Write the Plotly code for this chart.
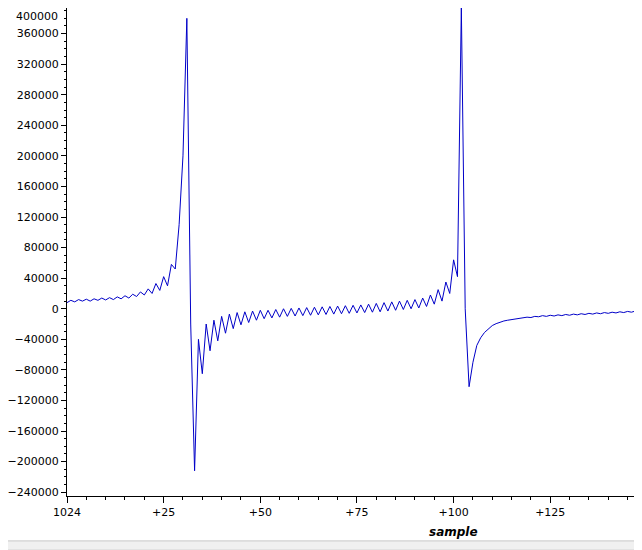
import plotly.graph_objects as go

# samples after index 1024
values = [
    8000, 11000, 9000, 12000, 10000, 12500, 10000, 13000, 11000, 14000,
    11500, 14500, 12000, 15500, 13000, 17000, 14000, 19000, 16000, 22000,
    18000, 26000, 20000, 33000, 24000, 42000, 30000, 58000, 52000, 110000,
    200000, 380000, -20000, -212000, -40000, -85000, -20000, -55000, -15000, -42000,
    -10000, -32000, -7000, -26000, -5000, -21000, -4000, -18000, -3000, -15000,
    -2000, -13000, -2000, -12000, -1000, -11000, 0, -10000, 500, -9500,
    1000, -9000, 1500, -8500, 2000, -8000, 2500, -7500, 3000, -7000,
    3500, -6500, 4000, -6000, 4500, -5500, 5000, -5000, 6000, -4500,
    7000, -4000, 8000, -3000, 9000, -2000, 10000, -1000, 11000, 0,
    12000, 1000, 14000, 3000, 18000, 6000, 25000, 10000, 35000, 20000,
    64000, 42000, 395000, 0, -102000, -70000, -48000, -38000, -31000, -26000,
    -22000, -19500, -17500, -16000, -15000, -14000, -13000, -12500, -12000, -11000,
    -11500, -10000, -10500, -9000, -10000, -8500, -9500, -8000, -9000, -7500,
    -8500, -7000, -8000, -6500, -7500, -6000, -7000, -5500, -6500, -5000,
    -6000, -4500, -5500, -4000, -5000, -3500, -4500, -3000, -4000,
]
samples = list(range(len(values)))
x_ticks = [0, 25, 50, 75, 100, 125, 150]
x_labels = ["1024", "+25", "+50", "+75", "+100", "+125", "+150"]
y_ticks = list(range(-240000, 360001, 40000))

fig = go.Figure()
fig.add_trace(go.Scatter(x=samples, y=values, mode="lines",
                         line=dict(color="#0000c8", width=1)))

fig.update_layout(
    width=642, height=542,
    margin=dict(l=57, r=0, t=0, b=54),
    paper_bgcolor="white", plot_bgcolor="white",
    showlegend=False,
    font=dict(family="DejaVu Sans", size=11, color="black"),
    xaxis=dict(range=[0, 150.8], tickvals=x_ticks, ticktext=x_labels,
               showgrid=False, zeroline=False, showline=True, linecolor="black",
               ticks="outside", ticklen=6, tickcolor="black",
               minor=dict(dtick=5, ticks="outside", ticklen=3, tickcolor="black")),
    yaxis=dict(range=[-245000, 393500], tickvals=y_ticks, tickformat="d",
               showgrid=False, zeroline=False, showline=True, linecolor="black",
               ticks="outside", ticklen=5, tickcolor="black",
               minor=dict(dtick=10000, ticks="outside", ticklen=2, tickcolor="black")),
)
# top label, cut off at the top edge in the reference
fig.add_annotation(x=0, y=1, xref="paper", yref="paper", text="400000",
                   xanchor="right", yanchor="top", xshift=-7, showarrow=False,
                   font=dict(size=11))
fig.add_annotation(x=100, y=-0.074, xref="x", yref="paper", text="<b><i>sample</i></b>",
                   yanchor="middle", showarrow=False, font=dict(size=12))
fig.add_shape(type="rect", xref="paper", yref="paper", x0=-0.12, x1=1.02,
              y0=-0.111, y1=-0.092, fillcolor="#f0f0f0", line=dict(color="#c8c8c8", width=1))

fig.write_html("out.html")
